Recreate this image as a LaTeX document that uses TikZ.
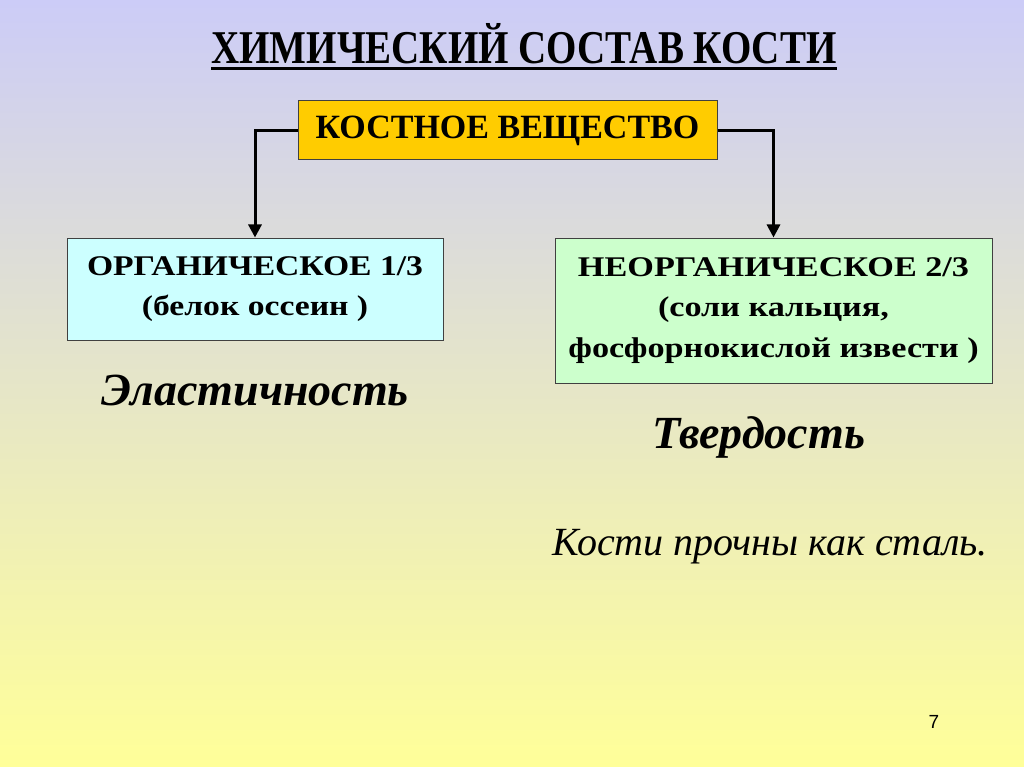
\documentclass[tikz,border=0pt]{standalone}
\usepackage{fontspec}
\setmainfont{Liberation Serif}
\newfontfamily\numfont{Liberation Sans}
\usetikzlibrary{arrows.meta}
\definecolor{bgtop}{RGB}{204,204,247}
\definecolor{bgbot}{RGB}{255,255,153}
\definecolor{gold}{RGB}{255,204,0}
\definecolor{paleblue}{RGB}{204,255,255}
\definecolor{palegreen}{RGB}{204,255,204}
\newcommand{\sx}[2]{\scalebox{#1}[1]{#2}}
\tikzset{
  box/.style={draw=black!75, line width=1pt, align=center, inner sep=0pt,
    font=\bfseries\fontsize{28.5}{40.5}\selectfont},
  arr/.style={line width=3pt, -{Triangle[length=13pt,width=13pt]}}
}
\begin{document}
\begin{tikzpicture}[x=1pt,y=-1pt]
\shade[top color=bgtop, bottom color=bgbot] (0,0) rectangle (1024,767);
\useasboundingbox (0,0) rectangle (1024,767);
% title
\node[anchor=base, inner sep=0pt, font=\bfseries\fontsize{47}{54}\selectfont] (title) at (524,64) {\sx{0.83}{ХИМИЧЕСКИЙ СОСТАВ КОСТИ}};
\draw[line width=3pt] ([yshift=-5pt]title.base west) -- ([yshift=-5pt]title.base east);
% boxes
\node[box, fill=gold, minimum width=419pt, minimum height=59pt, font=\bfseries\fontsize{34}{40}\selectfont] (sub) at (507.5,130.5) {КОСТНОЕ ВЕЩЕСТВО};
\node[box, fill=paleblue, minimum width=376pt, minimum height=102pt] (org) at (255,289) {\sx{1.18}{ОРГАНИЧЕСКОЕ 1/3}\\\sx{1.18}{(белок оссеин )}};
\node[box, fill=palegreen, minimum width=437pt, minimum height=145pt] (neo) at (773.5,310.5) {\sx{1.2}{НЕОРГАНИЧЕСКОЕ 2/3}\\\sx{1.2}{(соли кальция,}\\\sx{1.2}{фосфорнокислой извести )}};
\draw[arr] (sub.west) -| (org.north);
\draw[arr] (sub.east) -| (neo.north);
% properties
\node[anchor=base, font=\bfseries\itshape\fontsize{46}{56}\selectfont] (elast) at (255,405) {Эластичность};
\node[anchor=base, font=\bfseries\itshape\fontsize{46}{56}\selectfont] (hard) at (759,448) {Твердость};
\node[anchor=base, font=\itshape\fontsize{40}{50}\selectfont] (steel) at (770,555) {Кости прочны как сталь.};
\node[anchor=base, font=\numfont\fontsize{19}{23}\selectfont] (num) at (934,728) {7};
\end{tikzpicture}
\end{document}
